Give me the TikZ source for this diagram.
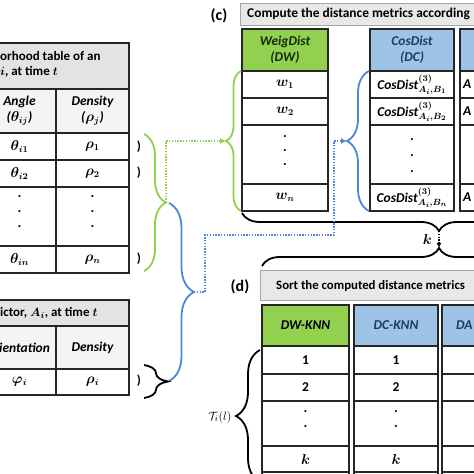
\documentclass[tikz,border=0pt]{standalone}
\usepackage{amsmath,bm}
\usepackage{fontspec}
\setmainfont{Carlito}
\usetikzlibrary{decorations.pathreplacing,arrows.meta}

\definecolor{hdgreen}{HTML}{92D050}
\definecolor{hdblue}{HTML}{9DC3E6}
\definecolor{lngreen}{HTML}{92D050}
\definecolor{lnblue}{HTML}{4F86DB}
\definecolor{ttlgray}{HTML}{E8E8E8}
\definecolor{hdgray}{HTML}{E3E3E3}
\definecolor{rowgray}{HTML}{F4F4F4}
\definecolor{navy}{HTML}{1F3864}
\definecolor{dkgreen}{HTML}{142A0A}

\tikzset{
  cell/.style={draw=black!85, line width=1.3pt, inner sep=0pt, align=center,
    font=\bfseries\itshape\boldmath\fontsize{13.5}{16}\selectfont},
  ttlbox/.style={draw=black!35, fill=ttlgray, line width=0.8pt},
  ttltext/.style={anchor=west, inner sep=0pt, font=\bfseries\boldmath\fontsize{13}{15}\selectfont},
  panel/.style={inner sep=0pt, font=\bfseries\fontsize{16}{18}\selectfont},
  dotline/.style={line width=1.6pt, dash pattern=on 1.4pt off 1.4pt},
  brc/.style={decorate, decoration={brace, amplitude=#1}, line width=1.8pt},
  paren/.style={inner sep=0pt, font=\bfseries\fontsize{13}{14}\selectfont},
  vdots/.style={inner sep=0pt, font=\bfseries\fontsize{14}{14}\selectfont},
}

\begin{document}
\begin{tikzpicture}[x=1pt, y=-1pt]
\useasboundingbox (0,0) rectangle (474,474);
\clip (0,0) rectangle (474,474);

% Tabla de vecindad
\node[cell, fill=hdgray, minimum width=146, minimum height=46] (nbhd) at (56,66) {};
\node[ttltext] (nbhdA) at (0,56) {orhood table of an};
\node[ttltext] (nbhdB) at (0,72) {$\bm{i}$, at time $\bm{t}$};
\node[cell, fill=rowgray, minimum width=73, minimum height=44] (angH) at (19.5,111) {Angle\\($\theta_{ij}$)};
\node[cell, fill=rowgray, minimum width=73, minimum height=44] (denH) at (92.5,111) {Density\\($\rho_j$)};
\node[cell, minimum width=73, minimum height=27] (ang1) at (19.5,146.5) {$\theta_{i1}$};
\node[cell, minimum width=73, minimum height=27] (den1) at (92.5,146.5) {$\rho_1$};
\node[cell, minimum width=73, minimum height=27] (ang2) at (19.5,173.5) {$\theta_{i2}$};
\node[cell, minimum width=73, minimum height=27] (den2) at (92.5,173.5) {$\rho_2$};
\node[cell, minimum width=73, minimum height=59] (angD) at (19.5,216.5) {};
\node[cell, minimum width=73, minimum height=59] (denD) at (92.5,216.5) {};
\node[cell, minimum width=73, minimum height=27] (angN) at (19.5,259.5) {$\theta_{in}$};
\node[cell, minimum width=73, minimum height=27] (denN) at (92.5,259.5) {$\rho_n$};
\foreach \y in {197,212,227} {
  \node[vdots] at (19.5,\y) {.};
  \node[vdots] at (92.5,\y) {.};
}

% Tabla del agente
\node[cell, fill=hdgray, minimum width=146, minimum height=26] (agt) at (56,313) {};
\node[ttltext] (agtA) at (0,313) {ictor, $\bm{A_i}$, at time $\bm{t}$};
\node[cell, fill=rowgray, minimum width=73, minimum height=43] (oriH) at (19.5,347.5) {};
\node[ttltext, font=\bfseries\itshape\fontsize{13.5}{16}\selectfont] (oriA) at (-1,347.5) {ientation};
\node[cell, fill=rowgray, minimum width=73, minimum height=43] (denA) at (92.5,347.5) {Density};
\node[cell, minimum width=73, minimum height=26] (phi) at (19.5,382) {$\varphi_i$};
\node[cell, minimum width=73, minimum height=26] (rhoi) at (92.5,382) {$\rho_i$};

% Parentesis
\foreach \y in {147,173,259,381}
  \node[paren] at (139,\y) {)};

% Panel (c)
\node[panel] (lblc) at (219,16) {(c)};
\draw[ttlbox] (240,3) rectangle (520,25);
\node[ttltext, font=\bfseries\fontsize{13.4}{16}\selectfont] (ttlc) at (247,14) {Compute the distance metrics according};
\node[cell, fill=hdgreen, text=dkgreen, minimum width=86, minimum height=42] (wdH) at (285,50) {WeigDist\\(DW)};
\node[cell, minimum width=86, minimum height=27] (w1) at (285,84.5) {$w_1$};
\node[cell, minimum width=86, minimum height=27] (w2) at (285,111.5) {$w_2$};
\node[cell, minimum width=86, minimum height=59] (wD) at (285,154.5) {};
\node[cell, minimum width=86, minimum height=27] (wn) at (285,197.5) {$w_n$};
\node[cell, fill=hdblue, text=navy, minimum width=84, minimum height=42] (cdH) at (412,50) {CosDist\\(DC)};
\node[cell, minimum width=84, minimum height=27] (cd1) at (412,84.5) {CosDist$^{(3)}_{A_i,B_1}$};
\node[cell, minimum width=84, minimum height=27] (cd2) at (412,111.5) {CosDist$^{(3)}_{A_i,B_2}$};
\node[cell, minimum width=84, minimum height=59] (cdD) at (412,154.5) {};
\node[cell, minimum width=84, minimum height=27] (cdn) at (412,197.5) {CosDist$^{(3)}_{A_i,B_n}$};
\node[cell, fill=hdblue, minimum width=84, minimum height=42] (adH) at (502,50) {};
\node[cell, minimum width=84, minimum height=27] (ad1) at (502,84.5) {};
\node[cell, minimum width=84, minimum height=27] (ad2) at (502,111.5) {};
\node[cell, minimum width=84, minimum height=59] (adD) at (502,154.5) {};
\node[cell, minimum width=84, minimum height=27] (adn) at (502,197.5) {};
\foreach \y in {84.5,111.5,197.5}
  \node[ttltext, font=\bfseries\itshape\fontsize{13.5}{16}\selectfont] at (463,\y) {A};
\foreach \y in {137,151,165}
  \node[vdots] at (285,\y) {.};
\foreach \y in {140,156,172}
  \node[vdots] at (412,\y) {.};

% Panel (d)
\node[panel] (lbld) at (240,287) {(d)};
\draw[ttlbox] (260,270) rectangle (520,300);
\node[ttltext, font=\bfseries\fontsize{12.8}{16}\selectfont] (ttld) at (276,286) {Sort the computed distance metrics};
\node[cell, fill=hdgreen, minimum width=87, minimum height=41] (dwH) at (305.5,325.5) {DW-KNN};
\node[cell, minimum width=87, minimum height=28] (dw1) at (305.5,360) {\upshape 1};
\node[cell, minimum width=87, minimum height=27] (dw2) at (305.5,387.5) {\upshape 2};
\node[cell, minimum width=87, minimum height=45] (dwD) at (305.5,423.5) {};
\node[cell, minimum width=87, minimum height=26] (dwk) at (305.5,459) {$k$};
\node[cell, minimum width=87, minimum height=30] (dwx) at (305.5,487) {};
\node[cell, fill=hdblue, text=navy, minimum width=84, minimum height=41] (dcH) at (396,325.5) {DC-KNN};
\node[cell, minimum width=84, minimum height=28] (dc1) at (396,360) {\upshape 1};
\node[cell, minimum width=84, minimum height=27] (dc2) at (396,387.5) {\upshape 2};
\node[cell, minimum width=84, minimum height=45] (dcD) at (396,423.5) {};
\node[cell, minimum width=84, minimum height=26] (dck) at (396,459) {$k$};
\node[cell, minimum width=84, minimum height=30] (dcx) at (396,487) {};
\node[cell, fill=hdblue, minimum width=84, minimum height=41] (daH) at (484,325.5) {};
\node[cell, minimum width=84, minimum height=28] (da1) at (484,360) {};
\node[cell, minimum width=84, minimum height=27] (da2) at (484,387.5) {};
\node[cell, minimum width=84, minimum height=45] (daD) at (484,423.5) {};
\node[cell, minimum width=84, minimum height=26] (dak) at (484,459) {};
\node[cell, minimum width=84, minimum height=30] (dax) at (484,487) {};
\node[ttltext, text=navy, font=\bfseries\itshape\fontsize{13.5}{16}\selectfont] (daT) at (456,325.5) {DA};
\foreach \y in {412,427} {
  \node[vdots] at (305.5,\y) {.};
  \node[vdots] at (396,\y) {.};
}

% Llaves
\draw[brc=22pt, lngreen] (144,134) -- (144,271);
\coordinate (gLtip) at (166,202.5);
\draw[brc=15pt, lngreen] (241,211) -- (241,71);
\coordinate (gRtip) at (226,141);
\draw[brc=25pt, lnblue] (169,203) -- (169,381);
\coordinate (bLtip) at (194,292);
\draw[brc=22pt, lnblue] (369,211) -- (369,71);
\coordinate (bRtip) at (347,141);
\draw[brc=24pt, black] (144,365) -- (144,398);
\draw[brc=18pt, black] (636,213) -- (242,213);
\coordinate (cTip) at (439,231);
\draw[brc=18pt, black] (262,266) -- (616,266);
\coordinate (dTip) at (439,248);
\draw[brc=24pt, black] (260,482) -- (260,350);
\node[inner sep=0pt, font=\fontsize{12.5}{14}\selectfont] (tau) at (220,417) {$\mathcal{T}_i(l)$};

% Conectores
\draw[dotline, lngreen, -{Latex[length=6pt,width=6pt]}] (gLtip) |- (gRtip);
\coordinate (bturn) at (334,235);
\draw[dotline, lnblue, -{Latex[length=6pt,width=6pt]}] (bLtip) -- ++(11,0) |- (bturn) |- (bRtip);
\draw[dotline, black, -{Latex[length=5pt,width=5pt]}] (cTip) -- (dTip)
  node[midway, left=3pt, font=\bfseries\itshape\boldmath\fontsize{14}{14}\selectfont] (klbl) {$k$};

\end{tikzpicture}
\end{document}
